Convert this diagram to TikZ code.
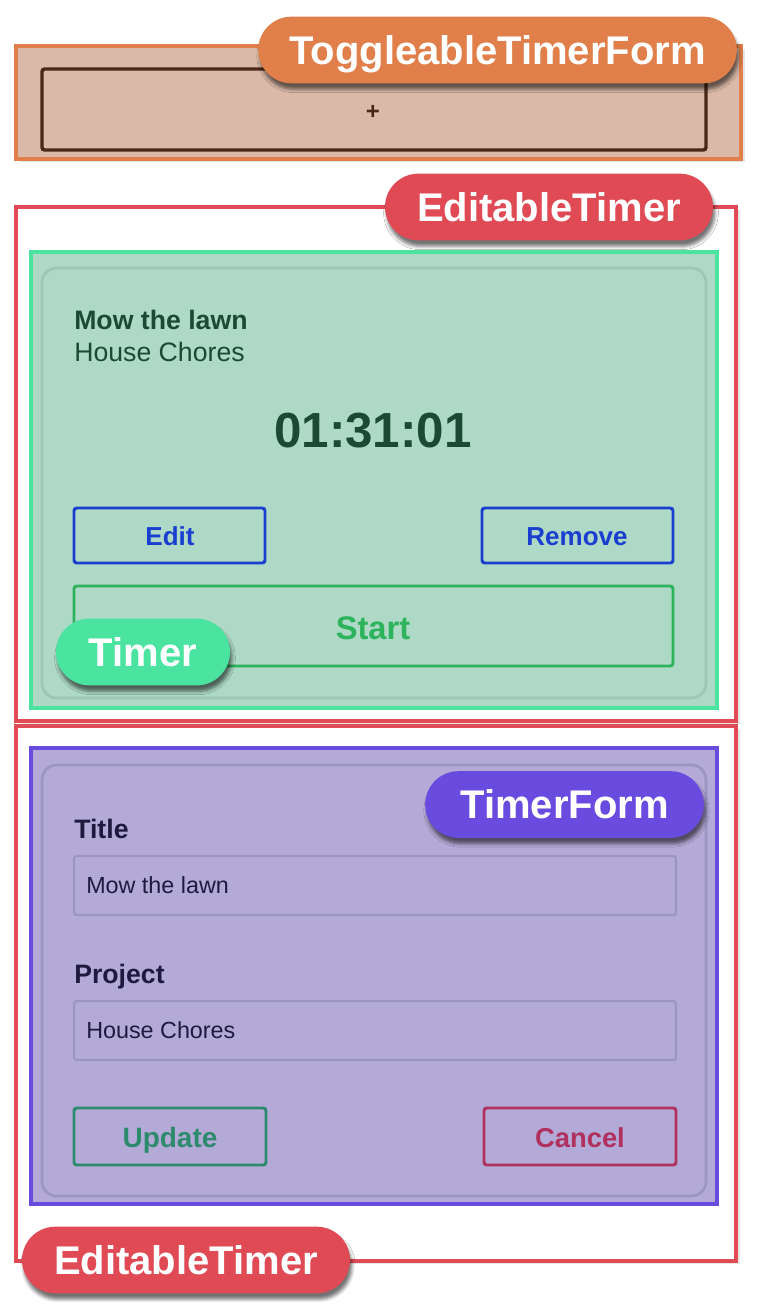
\documentclass[tikz,border=0pt]{standalone}
\usepackage{fontspec}
\setmainfont{Liberation Sans}
\usetikzlibrary{shadows,shadows.blur}
\definecolor{ttforange}{HTML}{E07F4A}
\definecolor{ttffill}{HTML}{DAB9A8}
\definecolor{plusbrown}{HTML}{4A2817}
\definecolor{etred}{HTML}{E04A55}
\definecolor{timergreen}{HTML}{4BE3A0}
\definecolor{timerfill}{HTML}{ADD9C6}
\definecolor{timercard}{HTML}{9CC7B3}
\definecolor{timertext}{HTML}{1B4A32}
\definecolor{editblue}{HTML}{1A3FD0}
\definecolor{startgreen}{HTML}{2DB35C}
\definecolor{formpurple}{HTML}{6A4BE0}
\definecolor{formfill}{HTML}{B4AAD8}
\definecolor{formcard}{HTML}{9D94C6}
\definecolor{formtext}{HTML}{1E1A3F}
\definecolor{updategreen}{HTML}{2E8A6C}
\definecolor{cancelred}{HTML}{B0305E}
\begin{document}
\begin{tikzpicture}[x=0.75pt,y=-0.75pt,
  pill/.style={rounded corners=25pt,minimum height=50pt,inner sep=0pt,text=white,
    text height=21.5pt,text depth=0pt,
    font=\bfseries\fontsize{30}{30}\selectfont,
    blur shadow={shadow xshift=1.5pt,shadow yshift=-4.5pt,shadow blur radius=2.5pt,shadow opacity=55}},
  frame/.style={line width=3.6pt},
  card/.style={line width=2pt,rounded corners=11pt},
  btn/.style={line width=2.2pt,rounded corners=2pt},
  btntext/.style={font=\bfseries\fontsize{19.5}{19.5}\selectfont,anchor=base,inner sep=0pt},
  uibold/.style={font=\bfseries\fontsize{20}{20}\selectfont,anchor=base west,inner sep=0pt},
  uitext/.style={font=\fontsize{20}{20}\selectfont,anchor=base west,inner sep=0pt},
  inputtext/.style={font=\fontsize{17.5}{17.5}\selectfont,anchor=base west,inner sep=0pt}]
  \useasboundingbox (0,0) rectangle (760,1310);
  % ToggleableTimerForm
  \draw[frame,line width=3pt,ttforange,fill=ttffill,drop shadow={opacity=0.2,shadow yshift=-2pt}] (16,46) rectangle (741,159);
  \draw[btn,plusbrown,line width=2.6pt] (42,69) rectangle (706,150);
  \node[font=\bfseries\fontsize{18}{18}\selectfont,text=plusbrown] (plus) at (373,112) {+};
  % EditableTimer frames
  \draw[frame,etred,drop shadow={opacity=0.2,shadow yshift=-2pt},fill=white] (16,207) rectangle (736,721);
  \draw[frame,etred,drop shadow={opacity=0.2,shadow yshift=-2pt},fill=white] (16,726) rectangle (736,1261);
  % Timer
  \draw[frame,timergreen,fill=timerfill] (31,252) rectangle (717,708);
  \draw[card,timercard] (42,268) rectangle (706,698);
  \node[uibold,text=timertext] (title) at (74,329) {Mow the lawn};
  \node[uitext,text=timertext] (project) at (74,361) {House Chores};
  \node[font=\bfseries\fontsize{37}{37}\selectfont,text=timertext,anchor=base,inner sep=0pt] (elapsed) at (373,447) {01:31:01};
  \draw[btn,editblue] (74,508) rectangle (265,563);
  \node[btntext,text=editblue] (edit) at (170,545) {Edit};
  \draw[btn,editblue] (482,508) rectangle (673,563);
  \node[btntext,text=editblue] (remove) at (577,545) {Remove};
  \draw[btn,startgreen] (74,586) rectangle (673,666);
  \node[btntext,text=startgreen,font=\bfseries\fontsize{24.5}{24.5}\selectfont] (start) at (373,639) {Start};
  % TimerForm
  \draw[frame,formpurple,fill=formfill] (31,748) rectangle (717,1204);
  \draw[card,formcard] (42,765) rectangle (706,1196);
  \node[uibold,text=formtext] (titlelabel) at (74,838) {Title};
  \draw[formcard,line width=1.6pt,rounded corners=2pt] (74,856) rectangle (676,915);
  \node[inputtext,text=formtext] (titleinput) at (86,893) {Mow the lawn};
  \node[uibold,text=formtext] (projectlabel) at (74,983) {Project};
  \draw[formcard,line width=1.6pt,rounded corners=2pt] (74,1001) rectangle (676,1060);
  \node[inputtext,text=formtext] (projectinput) at (86,1038) {House Chores};
  \draw[btn,updategreen] (74,1108) rectangle (266,1165);
  \node[btntext,text=updategreen,font=\bfseries\fontsize{21}{21}\selectfont] (update) at (170,1147) {Update};
  \draw[btn,cancelred] (484,1108) rectangle (676,1165);
  \node[btntext,text=cancelred,font=\bfseries\fontsize{20.5}{20.5}\selectfont] (cancel) at (580,1147) {Cancel};
  % component labels
  \node[pill,fill=ttforange,minimum width=359pt] (ttflabel) at (497.5,50) {ToggleableTimerForm};
  \node[pill,fill=etred,minimum width=246pt] (etlabel) at (549,207) {EditableTimer};
  \node[pill,fill=timergreen,minimum width=130.5pt] (timerlabel) at (143,652) {Timer};
  \node[pill,fill=formpurple,minimum width=209pt] (formlabel) at (564.5,804.5) {TimerForm};
  \node[pill,fill=etred,minimum width=246pt] (etlabelb) at (186,1260) {EditableTimer};
\end{tikzpicture}
\end{document}
